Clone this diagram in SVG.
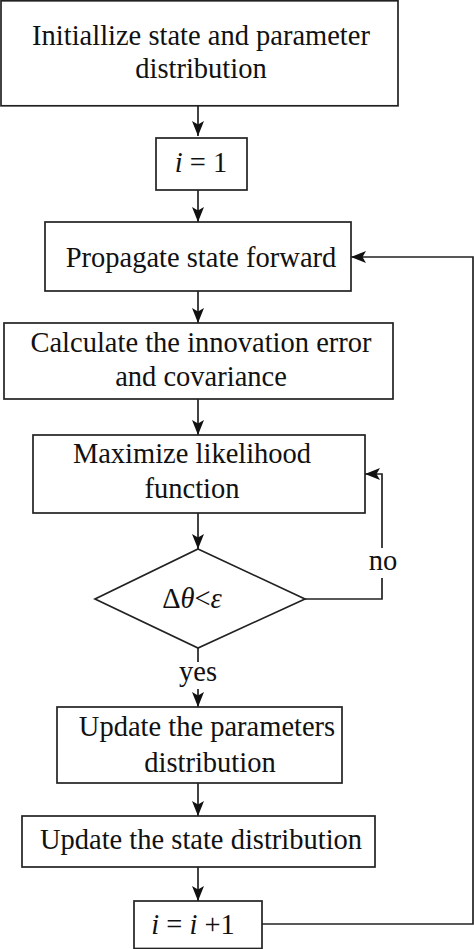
<svg xmlns="http://www.w3.org/2000/svg" width="474" height="949" viewBox="0 0 474 949">
<style>
.n{fill:#fff;stroke:#222;stroke-width:1.7}
.t{font-size:28.5px;fill:#111;text-anchor:middle}
.c{fill:none;stroke:#222;stroke-width:1.7}
</style>
<defs>
<marker id="a" viewBox="0 0 15 12" refX="15" refY="6" markerWidth="15" markerHeight="12" markerUnits="userSpaceOnUse" orient="auto">
<path d="M0,0 L15,6 L0,12 L3.5,6 Z" fill="#111"/>
</marker>
</defs>
<rect width="474" height="949" fill="#fff"/>
<g id="connectors" font-family="'Liberation Serif', 'DejaVu Serif', serif">
<line class="c" x1="198" y1="106" x2="198" y2="136" marker-end="url(#a)"/>
<line class="c" x1="198" y1="190" x2="198" y2="222" marker-end="url(#a)"/>
<line class="c" x1="198" y1="291" x2="198" y2="323" marker-end="url(#a)"/>
<line class="c" x1="198" y1="399" x2="198" y2="435" marker-end="url(#a)"/>
<line class="c" x1="198" y1="513" x2="198" y2="549" marker-end="url(#a)"/>
<line class="c" x1="198" y1="648" x2="198" y2="662"/>
<line class="c" x1="198" y1="689" x2="198" y2="707" marker-end="url(#a)"/>
<line class="c" x1="198" y1="783" x2="198" y2="816" marker-end="url(#a)"/>
<line class="c" x1="198" y1="867" x2="198" y2="901" marker-end="url(#a)"/>
<polyline class="c" points="305,599 382,599 382,578"/>
<polyline class="c" points="382,548 382,474 365,474" marker-end="url(#a)"/>
<polyline class="c" points="262,924 473,924 473,257 351,257" marker-end="url(#a)"/>
<text class="t" x="383" y="570">no</text>
<text class="t" x="198" y="681">yes</text>
</g>
<g font-family="'Liberation Serif', 'DejaVu Serif', serif">
<g id="n1">
<rect class="n" x="1" y="0.8" width="397" height="105"/>
<text class="t" x="201" y="45">Initiallize state and parameter</text>
<text class="t" x="201" y="78">distribution</text>
</g>
<g id="n2">
<rect class="n" x="156" y="138" width="91" height="52"/>
<text class="t" x="201" y="172"><tspan font-style="italic">i</tspan> = 1</text>
</g>
<g id="n3">
<rect class="n" x="45" y="222" width="306" height="69"/>
<text class="t" x="201" y="267">Propagate state forward</text>
</g>
<g id="n4">
<rect class="n" x="4" y="323" width="389" height="76"/>
<text class="t" x="201" y="352">Calculate the innovation error</text>
<text class="t" x="201" y="386">and covariance</text>
</g>
<g id="n5">
<rect class="n" x="33" y="435" width="332" height="78"/>
<text class="t" x="192" y="463">Maximize likelihood</text>
<text class="t" x="192" y="498">function</text>
</g>
<g id="n6">
<polygon class="n" points="198,549 305,599 198,648 95,599"/>
<text class="t" x="192" y="608">Δ<tspan font-style="italic">θ</tspan>&lt;<tspan font-style="italic">ε</tspan></text>
</g>
<g id="n7">
<rect class="n" x="57" y="707" width="285" height="76"/>
<text class="t" x="207" y="736">Update the parameters</text>
<text class="t" x="210" y="772">distribution</text>
</g>
<g id="n8">
<rect class="n" x="22" y="816" width="353" height="51"/>
<text class="t" x="201" y="849">Update the state distribution</text>
</g>
<g id="n9">
<rect class="n" x="134" y="901" width="128" height="47.5"/>
<text class="t" x="193" y="934"><tspan font-style="italic">i</tspan> = <tspan font-style="italic">i</tspan> +1</text>
</g>
</g>
</svg>
